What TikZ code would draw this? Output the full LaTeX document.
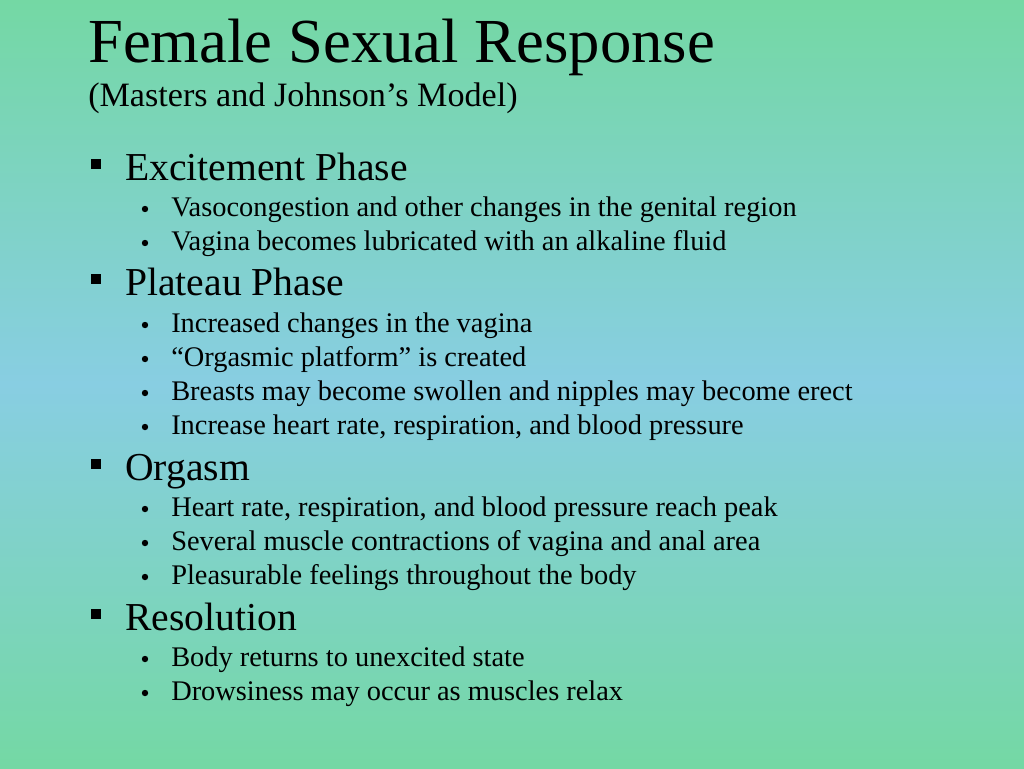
\documentclass[tikz,border=0pt]{standalone}
\usepackage{fontspec}
\setmainfont{Liberation Serif}
\definecolor{gtop}{RGB}{116,216,164}
\definecolor{bmid}{RGB}{136,206,226}
\begin{document}
\begin{tikzpicture}[x=0.75pt,y=-0.75pt,
  t/.style={anchor=base west,inner sep=0pt},
  lone/.style={t,font=\fontsize{29.7}{32}\selectfont},
  ltwo/.style={t,font=\fontsize{21.3}{24}\selectfont}]
\useasboundingbox (0,0) rectangle (1024,768);
\shade[top color=gtop,bottom color=bmid] (0,0) rectangle (1024,384);
\shade[top color=bmid,bottom color=gtop] (0,384) rectangle (1024,768);
\node[t,font=\fontsize{47}{50}\selectfont] (title) at (88,62) {Female Sexual Response};
\node[t,font=\fontsize{25.6}{28}\selectfont] (sub) at (88,106) {(Masters and Johnson’s Model)};
\foreach \y/\s [count=\i] in {180/Excitement Phase,295/Plateau Phase,480/Orgasm,630/Resolution}{
  \fill (91,\y-21) rectangle ++(10,10);
  \node[lone] (h\i) at (125,\y) {\s};}
\foreach \y/\s [count=\i] in {216/Vasocongestion and other changes in the genital region,
  250/Vagina becomes lubricated with an alkaline fluid,
  332/Increased changes in the vagina,
  366/“Orgasmic platform” is created,
  400/Breasts may become swollen and nipples may become erect,
  434/{Increase heart rate, respiration, and blood pressure},
  516/{Heart rate, respiration, and blood pressure reach peak},
  550/Several muscle contractions of vagina and anal area,
  584/Pleasurable feelings throughout the body,
  666/Body returns to unexcited state,
  700/Drowsiness may occur as muscles relax}{
  \fill (145,\y-7) circle (3.2);
  \node[ltwo] (b\i) at (171,\y) {\s};}
\end{tikzpicture}
\end{document}
